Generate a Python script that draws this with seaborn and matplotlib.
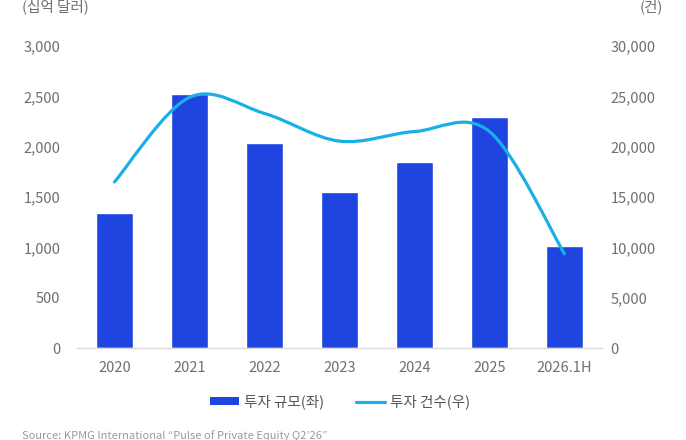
import numpy as np
import pandas as pd
import matplotlib
matplotlib.use("Agg")
import matplotlib.pyplot as plt
from matplotlib.path import Path
from matplotlib.patches import PathPatch, Patch
from matplotlib.lines import Line2D
import seaborn as sns

# Data
years = ["2020", "2021", "2022", "2023", "2024", "2025", "2026.1H"]
deal_value = [1340, 2520, 2035, 1550, 1845, 2295, 1010]      # 십억 달러 (left axis)
deal_count = [16500, 24900, 23300, 20550, 21500, 21500, 9350]  # 건 (right axis)

bar_color = "#1F45E0"
line_color = "#1AAFE6"
text_gray = "#6F6F6F"

sns.set_theme(style="white")
plt.rcParams["font.family"] = ["Noto Sans CJK KR", "DejaVu Sans"]

df = pd.DataFrame({"year": years, "value": deal_value, "count": deal_count})

fig = plt.figure(figsize=(6.86, 4.40), dpi=100)
ax = fig.add_axes([77 / 686, 1 - 348 / 440, 525 / 686, 302 / 440])

sns.barplot(data=df, x="year", y="value", color=bar_color, width=0.5,
            saturation=1, ax=ax)
ax.set_xlim(-0.5, 6.5)
ax.set_ylim(0, 3000)
ax.set_yticks(range(0, 3001, 500))
ax.set_yticklabels([f"{v:,}" for v in range(0, 3001, 500)])
ax.set_xlabel("")
ax.set_ylabel("")

# Right axis: smooth line for deal count
ax2 = ax.twinx()
ax2.set_ylim(0, 30000)
ax2.set_yticks(range(0, 30001, 5000))
ax2.set_yticklabels([f"{v:,}" for v in range(0, 30001, 5000)])

# Catmull-Rom style bezier through the data points (drawing only)
xs = np.arange(len(years), dtype=float)
ys = np.array(deal_count, dtype=float)
verts = [(xs[0], ys[0])]
codes = [Path.MOVETO]
for i in range(len(xs) - 1):
    x0, y0 = (xs[i - 1], ys[i - 1]) if i > 0 else (xs[i], ys[i])
    x1, y1 = xs[i], ys[i]
    x2, y2 = xs[i + 1], ys[i + 1]
    x3, y3 = (xs[i + 2], ys[i + 2]) if i + 2 < len(xs) else (xs[i + 1], ys[i + 1])
    c1 = (x1 + (x2 - x0) / 6, y1 + (y2 - y0) / 6)
    c2 = (x2 - (x3 - x1) / 6, y2 - (y3 - y1) / 6)
    verts += [c1, c2, (x2, y2)]
    codes += [Path.CURVE4] * 3
ax2.add_patch(PathPatch(Path(verts, codes), facecolor="none",
                        edgecolor=line_color, lw=2.3, capstyle="round",
                        zorder=3))

for a in (ax, ax2):
    for s in a.spines.values():
        s.set_visible(False)
    a.tick_params(length=0, labelsize=10.5, labelcolor=text_gray)
    a.grid(False)
ax.spines["bottom"].set_visible(True)
ax.spines["bottom"].set_color("#DADADA")
ax.spines["bottom"].set_linewidth(1)
ax.tick_params(axis="y", pad=12)
ax.tick_params(axis="x", pad=9)
ax2.tick_params(axis="y", pad=6)

# Unit labels
fig.text(22 / 686, 1 - 14 / 440, "(십억 달러)", fontsize=10.5, color=text_gray,
         ha="left", va="bottom")
fig.text(663 / 686, 1 - 14 / 440, "(건)", fontsize=10.5, color=text_gray,
         ha="right", va="bottom")

# Legend
handles = [Patch(facecolor=bar_color, edgecolor="none"),
           Line2D([0], [0], color=line_color, lw=2.3)]
fig.legend(handles, ["투자 규모(좌)", "투자 건수(우)"], loc="center",
           bbox_to_anchor=(340 / 686, 1 - 402 / 440), ncol=2, frameon=False,
           fontsize=10.5, labelcolor="#555555", handlelength=2.0,
           handleheight=0.5, handletextpad=0.3, columnspacing=2.2)

fig.text(22 / 686, 1 - 430 / 440,
         "Source: KPMG International \u201cPulse of Private Equity Q2\u201926\u201d",
         fontsize=8, color="#9A9A9A", ha="left", va="top")

fig.savefig("out.png", dpi=100)
